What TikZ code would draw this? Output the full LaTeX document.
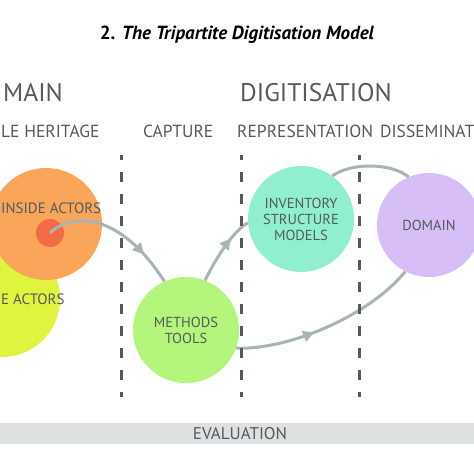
\documentclass[tikz,border=0pt]{standalone}
\usepackage{fontspec}
\setmainfont{PT Sans}
\usetikzlibrary{arrows.meta,decorations.markings}
\definecolor{txtgray}{HTML}{555A5C}
\definecolor{dashgray}{HTML}{55595A}
\definecolor{arrowgray}{HTML}{A9B5B5}
\definecolor{corange}{HTML}{F9A65A}
\definecolor{cred}{HTML}{F36B45}
\definecolor{cyellow}{HTML}{E0F33E}
\definecolor{cgreen}{HTML}{B4F57C}
\definecolor{cmint}{HTML}{8FEFCF}
\definecolor{clav}{HTML}{D8BEF6}
\definecolor{evalbar}{HTML}{DDE1E1}
\begin{document}
\begin{tikzpicture}[x=1pt,y=-1pt,
  bubble/.style={circle,inner sep=0pt,text=txtgray,align=center,font=\fontsize{14.5}{16}\selectfont},
  bighead/.style={text=txtgray,inner sep=0pt,font=\fontsize{25.5}{30}\selectfont},
  subhead/.style={text=txtgray,inner sep=0pt,font=\fontsize{17.5}{20}\selectfont},
  intext/.style={text=txtgray,inner sep=0pt,font=\fontsize{15}{16}\selectfont},
  flow/.style={draw=arrowgray,line width=3pt},
  midarrow/.style={postaction={decorate},decoration={markings,mark=at position #1 with {\arrow{Triangle[length=11pt,width=11pt]}}}},
  sep/.style={draw=dashgray,line width=3pt,dash pattern=on 10pt off 12pt,dash phase=5pt}
]
\useasboundingbox (0,0) rectangle (474,474);
\fill[white] (0,0) rectangle (474,474);

% title
\node[inner sep=0pt,anchor=base,font=\fontsize{19}{22}\selectfont\bfseries] (title) at (237,39.5) {2. \textit{The Tripartite Digitisation Model}};

% headings
\node[bighead,anchor=base west] (hmain) at (3,101) {MAIN};
\node[bighead,anchor=base west] (hdig) at (240,101) {DIGITISATION};
\node[subhead,anchor=base west] (hher) at (1,137) {LE HERITAGE};
\node[subhead,anchor=base west] (hcap) at (143,137) {CAPTURE};
\node[subhead,anchor=base west] (hrep) at (237,137) {REPRESENTATION};
\node[subhead,anchor=base west] (hdis) at (380,137) {DISSEMINAT};

% evaluation bar
\fill[evalbar] (0,423) rectangle (474,444);
\node[text=txtgray,inner sep=0pt,font=\fontsize{17}{20}\selectfont] (eval) at (240,433.5) {EVALUATION};

% circles
\node[bubble,fill=cyellow,minimum size=116pt] (outside) at (2,299) {};
\node[intext,anchor=west] (outtxt) at (1,299) {E ACTORS};
\node[bubble,fill=corange,minimum size=112pt] (inside) at (46,224) {};
\node[intext,anchor=west] (intxt) at (1,208) {INSIDE ACTORS};
\node[bubble,fill=cred,minimum size=28pt] (core) at (50,233) {};
\node[bubble,fill=cgreen,minimum size=106pt] (methods) at (186,330) {METHODS\\TOOLS};
\node[bubble,fill=cmint,minimum size=106pt] (inventory) at (301,219) {INVENTORY\\STRUCTURE\\MODELS};
\node[bubble,fill=clav,minimum size=104pt] (domain) at (429,225) {DOMAIN};

% connectors
\draw[flow,midarrow=0.76] (core.center) .. controls (72,212) and (120,212) .. (methods.114);
\draw[flow,midarrow=0.68] (methods.69) .. controls (215,260) and (232,232) .. (inventory.184);
\draw[flow] (inventory.54) .. controls (350,163) and (390,162) .. (domain.113);
\draw[flow,midarrow=0.42] (methods.-20) .. controls (290,350) and (370,315) .. (domain.243);

% separators
\draw[sep] (121,155) -- (121,397);
\draw[sep] (241,155) -- (241,397);
\draw[sep] (359,155) -- (359,397);
\end{tikzpicture}
\end{document}
